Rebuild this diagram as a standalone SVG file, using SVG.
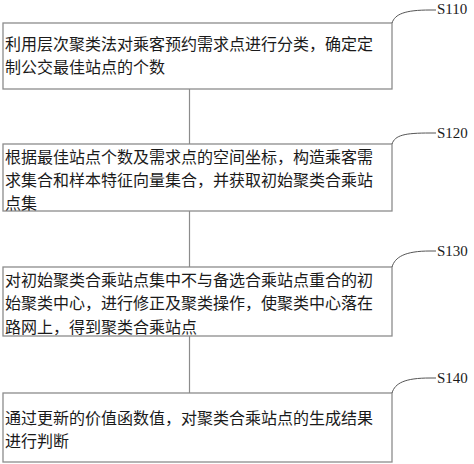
<svg xmlns="http://www.w3.org/2000/svg" width="474" height="464" viewBox="0 0 474 464">
<style>
.box{fill:#fff;stroke:#8c8c8c;stroke-width:1.3}
.t{font-family:"Noto Sans CJK SC","Noto Sans CJK JP",sans-serif;font-size:16px;fill:#1a1a1a}
.lbl{font-family:"Liberation Serif",serif;font-size:15px;fill:#1a1a1a}
.lead{fill:none;stroke:#555;stroke-width:1}
.conn{stroke:#8c8c8c;stroke-width:1.2;fill:none}
</style>
<rect width="474" height="464" fill="#fff"/>
<g id="connectors">
<line class="conn" x1="189.5" y1="89" x2="189.5" y2="144"/>
<line class="conn" x1="189.5" y1="211" x2="189.5" y2="267"/>
<line class="conn" x1="189.5" y1="336" x2="189.5" y2="393"/>
</g>
<g id="S110">
<rect class="box" x="3" y="23" width="389" height="66"/>
<text class="t" x="5" y="49.5">利用层次聚类法对乘客预约需求点进行分类，确定定</text>
<text class="t" x="5" y="72.5">制公交最佳站点的个数</text>
<path class="lead" d="M392,23 C395,14 405,10 430,10 L436,10"/>
<text class="lbl" x="437" y="14">S110</text>
</g>
<g id="S120">
<rect class="box" x="3" y="144" width="389" height="67"/>
<text class="t" x="5" y="163">根据最佳站点个数及需求点的空间坐标，构造乘客需</text>
<text class="t" x="5" y="186">求集合和样本特征向量集合，并获取初始聚类合乘站</text>
<text class="t" x="5" y="209">点集</text>
<path class="lead" d="M392,144 C395,135 405,133 430,133 L436,133"/>
<text class="lbl" x="437" y="138">S120</text>
</g>
<g id="S130">
<rect class="box" x="3" y="267" width="389" height="69"/>
<text class="t" x="5" y="286">对初始聚类合乘站点集中不与备选合乘站点重合的初</text>
<text class="t" x="5" y="309">始聚类中心，进行修正及聚类操作，使聚类中心落在</text>
<text class="t" x="5" y="333">路网上，得到聚类合乘站点</text>
<path class="lead" d="M392,267 C395,257 405,251 430,251 L436,251"/>
<text class="lbl" x="437" y="256">S130</text>
</g>
<g id="S140">
<rect class="box" x="3" y="393" width="389" height="69"/>
<text class="t" x="5" y="424">通过更新的价值函数值，对聚类合乘站点的生成结果</text>
<text class="t" x="5" y="447">进行判断</text>
<path class="lead" d="M392,393 C395,383 405,378 430,378 L436,378"/>
<text class="lbl" x="437" y="383">S140</text>
</g>
</svg>
